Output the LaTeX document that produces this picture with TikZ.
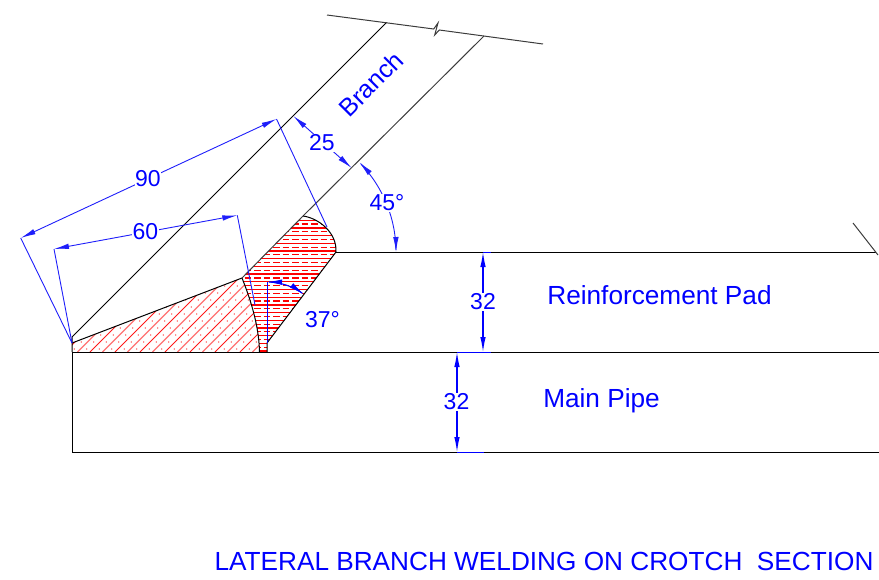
\documentclass[tikz,border=0pt]{standalone}
\usepackage{fontspec}
\setmainfont{Liberation Sans}
\usetikzlibrary{arrows.meta}
\definecolor{dimblue}{RGB}{0,0,255}
\definecolor{dimthin}{RGB}{30,30,250}
\definecolor{hatchred}{RGB}{255,0,0}
\definecolor{palered}{RGB}{255,115,115}
\definecolor{edgegray}{RGB}{60,60,60}
\tikzset{
  outline/.style={draw=black,line width=1pt},
  thinline/.style={draw=edgegray,line width=1pt},
  dimline/.style={draw=dimthin,line width=0.9pt},
  dimarrow/.style={dimline,{Latex[length=15pt,width=5.5pt]}-{Latex[length=15pt,width=5.5pt]}},
  boldarrow/.style={draw=dimblue,line width=1.1pt,{Latex[length=15pt,width=5.5pt]}-{Latex[length=15pt,width=5.5pt]}},
  dimtext/.style={text=dimblue,font=\fontsize{23}{25}\selectfont,fill=white,inner sep=0.5pt},
  labeltext/.style={text=dimblue,font=\fontsize{26.2}{28}\selectfont,inner sep=0pt},
  branchtext/.style={text=dimblue,font=\fontsize{25}{27}\selectfont,inner sep=0pt},
  solidhatch/.style={draw=hatchred,line width=1.3pt},
  dashhatch/.style={draw=hatchred,line width=1.2pt,dash pattern=on 6.5pt off 3pt},
}
\begin{document}
\begin{tikzpicture}[x=1pt,y=-1pt]
\useasboundingbox (0,0) rectangle (879,579);
% geometry
\coordinate (root) at (72,352);
\coordinate (rootA) at (72,343);
\coordinate (rootB) at (72,337);
\coordinate (pipeBL) at (72,452);
\coordinate (pipeBR) at (879,452);
\coordinate (pipeMR) at (879,352);
\coordinate (padT) at (336,252);
\coordinate (padTR) at (876,252);
\coordinate (tickA) at (853,223);
\coordinate (tickB) at (878,255);
\coordinate (brLT) at (386.5,22.5);
\coordinate (brRT) at (484,36);
\coordinate (weldTop) at (242,278);
\coordinate (capTop) at (303,216);
\coordinate (bevelLow) at (267,343);
\coordinate (bevelBase) at (267,352);
\coordinate (weldBase) at (259.5,352);
\coordinate (breakL) at (327,15);
\coordinate (breakA) at (433.7,29);
\coordinate (breakB) at (438,23);
\coordinate (breakC) at (434.7,35);
\coordinate (breakD) at (439.3,30);
\coordinate (breakR) at (543,44);
% hatching: root pass
\begin{scope}
  \clip (root) -- (rootA) -- (weldTop) .. controls (250,298) and (259,325) .. (weldBase) -- cycle;
  \foreach \k in {0,...,8}{
    \pgfmathsetmacro{\s}{77.5+25*\k}
    \draw[draw=palered,line width=1.1pt] ({\s},352) -- ({\s+130},222);
    \pgfmathsetmacro{\r}{65+25*\k}
    \draw[draw=hatchred!90!white,line width=1pt] ({\r},352) -- ({\r+130},222);
  }
  \foreach \k in {0,...,16}{
    \foreach \t in {3,10,...,94}{
      \pgfmathsetmacro{\s}{71.25+12.5*\k}
      \fill[hatchred] ({\s+\t},{352-\t}) circle[radius=0.7pt];
    }
  }
\end{scope}
% hatching: cap pass
\begin{scope}
  \clip (weldTop) -- (capTop) .. controls (318,218) and (337,232) .. (padT) -- (bevelLow) -- (bevelBase) -- (weldBase) .. controls (259,325) and (250,298) .. (weldTop) -- cycle;
  \foreach \k in {0,...,17}{
    \pgfmathsetmacro{\ya}{220.2+7.7*\k}
    \pgfmathsetmacro{\yb}{224.05+7.7*\k}
    \draw[solidhatch] (235,{\ya}) -- (345,{\ya});
    \draw[dashhatch] (235,{\yb}) -- (345,{\yb});
  }
\end{scope}
% outlines
\draw[outline] (pipeMR) -- (root) -- (pipeBL) -- (pipeBR);
\draw[outline] (padTR) -- (padT);
\draw[thinline] (tickA) -- (tickB);
\draw[outline] (root) -- (rootB) -- (brLT);
\draw[thinline] (weldTop) -- (capTop) -- (brRT);
\draw[thinline] (breakL) -- (breakA) -- (breakB) -- (breakC) -- (breakD) -- (breakR);
\draw[outline] (rootA) -- (weldTop);
\draw[outline] (weldTop) .. controls (250,298) and (259,325) .. (weldBase);
\draw[outline] (capTop) .. controls (318,218) and (337,232) .. (padT) -- (bevelLow) -- (bevelBase);
% dimension geometry
\coordinate (d90L) at (20.7,238);
\coordinate (d90R) at (276.5,119);
\coordinate (e90R) at (327,227);
\coordinate (d60L) at (54,249);
\coordinate (d60R) at (237.3,215.3);
\coordinate (e60R) at (255,305);
\coordinate (d25A) at (293.3,116);
\coordinate (d25B) at (351.7,168);
\coordinate (d32aT) at (483,252);
\coordinate (d32aB) at (483,352);
\coordinate (d32aE) at (491,352);
\coordinate (d32aF) at (491,252);
\coordinate (d32bT) at (457,352);
\coordinate (d32bB) at (457,452);
\coordinate (d32bE) at (483.5,452);
\coordinate (a37) at (267,282);
% dimensions
\draw[dimline] (rootA) -- (d90L);
\draw[dimline] (d90R) -- (e90R);
\draw[dimline] (rootA) -- (d60L);
\draw[dimline] (d60R) -- (e60R);
\draw[dimarrow] (d90L) -- (d90R);
\draw[dimarrow] (d60L) -- (d60R);
\draw[dimarrow] (d25A) -- (d25B);
\draw[boldarrow] (d32aT) -- (d32aB);
\draw[boldarrow] (d32bT) -- (d32bB);
\draw[draw=dimblue,line width=1pt] (d32aT) -- (d32aF);
\draw[draw=dimblue,line width=1pt] (d32bT) -- (d32aE);
\draw[draw=dimblue,line width=1pt] (d32bB) -- (d32bE);
\draw[draw=dimblue,line width=1pt] (a37) -- (bevelLow);
\draw[dimarrow] plot[domain=44.5:0,samples=40,smooth] ({268+128*cos(\x)},{252-128*sin(\x)});
\draw[boldarrow] plot[domain=90:53,samples=20,smooth] ({267+61*cos(\x)},{343-61*sin(\x)});
% labels
\node[dimtext] (t90) at (148,179) {90};
\node[dimtext] (t60) at (145.5,232) {60};
\node[dimtext] (t25) at (322,143) {25};
\node[dimtext] (t45) at (387,203) {45°};
\node[dimtext] (t37) at (322.5,320) {37°};
\node[dimtext] (t32a) at (483,302) {32};
\node[dimtext] (t32b) at (456.5,402) {32};
\node[branchtext,rotate=45] (tBranch) at (371,84) {Branch};
\node[labeltext,anchor=base] (tPad) at (659.5,304) {Reinforcement Pad};
\node[labeltext,anchor=base] (tPipe) at (601.5,407) {Main Pipe};
\node[labeltext,anchor=base] (tTitle) at (544,570) {LATERAL BRANCH WELDING ON CROTCH\ \ SECTION};
\end{tikzpicture}
\end{document}
